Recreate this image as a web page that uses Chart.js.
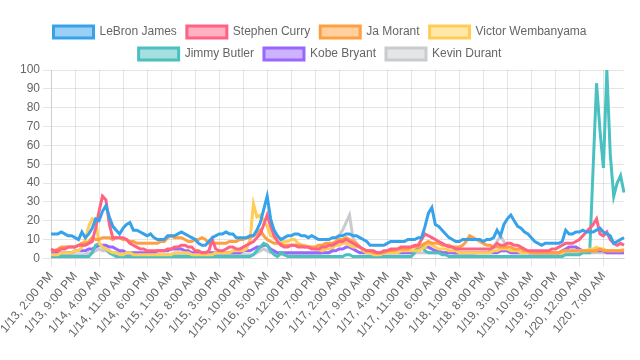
<!DOCTYPE html>
<html><head><meta charset="utf-8">
<style>html,body{margin:0;padding:0;background:#fff}#wrap{width:640px;height:360px;position:relative}</style>
</head><body><div id="wrap"><canvas id="c"></canvas></div>
<script src="https://cdn.jsdelivr.net/npm/chart.js@4.4.1/dist/chart.umd.min.js"></script>
<script>
// Hourly categories: 1/13 2:00 PM to 1/20 1:00 PM
const startDay = 13, startHour = 14, hourCount = 168;
const categories = [];
for (let i = 0; i < hourCount; i++) {
  const t = startHour + i, d = startDay + Math.floor(t / 24), h = t % 24;
  const h12 = h % 12 === 0 ? 12 : h % 12;
  categories.push('1/' + d + ', ' + h12 + ':00 ' + (h < 12 ? 'AM' : 'PM'));
}
const labelStep = 7;
const yTicks = {min: 0, max: 100, step: 10};

const lebron = [13,13,13,14,13,12,12,11,10,14,11,13,16,21, 20,25,28,22,17,15,13,16,18,19,15,15,14,13, 12,13,11,10,10,10,12,12,12,13,14,13,12,11, 10,8,7,7,9,11,12,13,13,14,13,13,11,11, 11,11,12,12,15,19,26,33,21,15,12,10,11,12, 12,13,13,12,12,11,12,11,10,10,10,10,11,11, 12,12,13,13,12,12,11,10,9,7,7,7,7,7, 8,9,9,9,9,9,10,10,10,11,11,17,24,27, 18,17,15,13,11,10,9,9,10,10,10,10,10,10, 9,10,10,11,15,12,18,21,23,20,17,16,14,13, 11,9,8,7,8,8,8,8,8,9,15,13,13,14, 14,15,14,14,14,15,16,14,13,12,8,9,10,11];
const curry = [5,4,4,5,5,6,6,6,7,7,7,8,9,16, 25,33,31,18,11,11,11,11,10,8,7,6,5,5, 4,4,4,4,4,4,5,5,6,6,7,7,6,6, 4,4,3,3,4,10,5,4,4,5,6,6,5,5, 6,7,8,9,11,13,18,23,17,12,9,7,6,6, 7,7,6,6,6,6,5,5,5,6,6,7,7,8, 9,9,10,9,8,7,6,5,4,4,4,3,3,4, 4,5,5,5,6,6,6,6,7,7,10,13,12,11, 10,9,8,7,6,6,5,5,5,5,5,5,5,5, 5,5,5,6,8,7,7,8,8,7,7,6,5,4, 4,4,4,4,4,4,5,5,6,7,8,8,8,9, 10,12,14,16,18,21,13,12,14,10,8,7,8,7];
const morant = [4,4,5,6,6,6,6,6,7,8,8,9,11,10, 10,11,11,11,10,11,11,10,10,9,9,8,8,8, 8,8,8,8,9,9,11,12,11,11,11,10,9,9, 10,10,11,10,8,8,8,8,8,8,9,9,9,10, 10,11,11,12,13,15,12,10,9,8,8,8,7,7, 7,7,7,7,6,6,6,6,7,7,8,8,8,9, 10,10,11,10,9,8,6,5,4,4,3,3,3,3, 4,4,4,5,5,5,5,6,6,6,7,8,9,8, 8,8,7,7,7,6,6,6,7,9,12,11,10,9, 8,7,7,6,6,6,6,6,6,5,5,5,4,4, 3,3,3,3,3,3,3,3,3,4,4,4,4,4, 4,4,4,4,4,4,5,4,4,4,4,4,4,4];
const wembanyama = [2,2,2,3,3,3,3,4,4,6,10,17,21,20, 8,6,5,4,3,3,2,2,3,3,2,2,2,2, 2,2,2,2,2,2,2,2,3,3,3,3,3,2, 2,2,2,2,2,2,3,3,3,3,3,4,4,4, 4,5,10,29,22,23,20,17,12,11,10,10,9,9, 10,10,8,7,7,6,6,5,5,4,5,5,6,7, 7,8,8,7,6,6,6,4,3,3,2,2,2,3, 3,3,3,3,4,4,4,4,4,4,5,6,8,7, 6,5,5,5,4,4,4,3,3,3,3,3,3,3, 3,3,3,4,4,5,5,5,4,4,4,3,3,3, 3,3,3,3,3,3,3,3,3,3,4,4,4,4, 4,4,4,5,5,6,5,5,4,4,4,4,4,5];
const butler = [1,1,1,1,1,1,1,1,1,1,1,1,3,7, 8,6,5,3,2,1,1,1,1,1,1,1,1,1, 1,1,1,1,1,1,1,1,1,1,1,1,1,1, 1,1,1,1,1,1,1,1,1,1,1,1,1,1, 1,1,1,2,4,6,8,7,4,2,1,3,2,1, 1,1,1,1,1,1,1,1,1,1,1,1,1,1, 1,1,2,2,1,1,1,1,1,1,1,1,1,1, 1,1,1,1,1,1,1,1,3,6,7,4,3,3, 3,3,2,2,1,1,1,1,1,1,1,1,1,1, 1,1,1,1,1,1,1,1,1,1,1,1,1,1, 1,1,1,1,1,1,1,1,1,1,2,2,2,2, 2,3,3,3,48,93,68,48,100,55,33,40,44,35];
const bryant = [3,3,3,3,3,3,3,4,4,4,4,5,5,6, 7,7,7,6,6,5,4,4,3,3,3,3,3,3, 3,3,3,4,4,4,4,5,5,5,5,4,4,3, 3,3,3,3,3,3,3,3,3,3,3,3,3,3, 4,4,4,5,6,6,7,7,5,4,3,3,3,3, 3,3,3,3,3,3,3,3,3,3,3,3,4,4, 5,5,6,6,5,4,3,3,3,3,3,3,3,3, 3,3,3,3,3,3,3,3,4,5,6,6,6,5, 4,4,3,3,3,3,3,3,3,3,3,3,3,3, 3,3,3,3,3,4,4,4,3,3,3,3,3,3, 3,3,3,3,3,3,3,3,3,4,5,6,6,6, 5,4,4,4,4,4,4,4,3,3,3,3,3,3];
const durant = [2,2,2,2,2,2,2,2,2,2,2,3,3,4, 5,4,4,4,3,3,3,2,2,2,2,2,2,2, 2,2,2,2,2,2,2,2,2,2,2,2,2,2, 2,2,2,2,2,2,2,2,2,2,2,2,2,2, 2,2,2,2,3,4,5,4,3,3,2,2,2,2, 2,2,2,2,2,2,2,2,2,3,3,3,5,8, 12,15,19,23,11,8,6,4,3,3,3,3,3,3, 3,3,3,3,3,3,3,3,3,3,3,3,3,3, 3,3,3,3,3,3,2,2,2,2,2,2,3,3, 3,3,4,6,9,12,9,5,3,3,3,3,3,3, 2,2,2,2,2,2,2,2,2,2,3,3,3,3, 3,3,3,3,3,3,3,3,3,3,3,3,3,3];

const seriesNames = ['LeBron James','Stephen Curry','Ja Morant','Victor Wembanyama','Jimmy Butler','Kobe Bryant','Kevin Durant'];
const seriesValues = [lebron, curry, morant, wembanyama, butler, bryant, durant];
const seriesColors = ['54,162,235','255,99,132','255,159,64','255,205,86','75,192,192','153,102,255','201,203,207'];

const datasets = seriesNames.map((name, k) => ({
  label: name,
  data: seriesValues[k],
  borderColor: 'rgb(' + seriesColors[k] + ')',
  backgroundColor: 'rgba(' + seriesColors[k] + ',0.5)',
  borderWidth: 3,
  pointRadius: 0,
  pointHoverRadius: 0,
  tension: 0,
  fill: false
}));

new Chart(document.getElementById('c'), {
  type: 'line',
  data: {labels: categories, datasets},
  options: {
    responsive: true,
    maintainAspectRatio: false,
    animation: false,
    layout: {padding: 16},
    plugins: {legend: {position: 'top'}, tooltip: {enabled: false}},
    scales: {
      x: {
        afterBuildTicks: (scale) => { scale.ticks = scale.ticks.filter(t => t.value % labelStep === 0); },
        ticks: {autoSkip: false, maxRotation: 50}
      },
      y: {min: yTicks.min, max: yTicks.max, ticks: {stepSize: yTicks.step}}
    }
  }
});
</script>
</body></html>
